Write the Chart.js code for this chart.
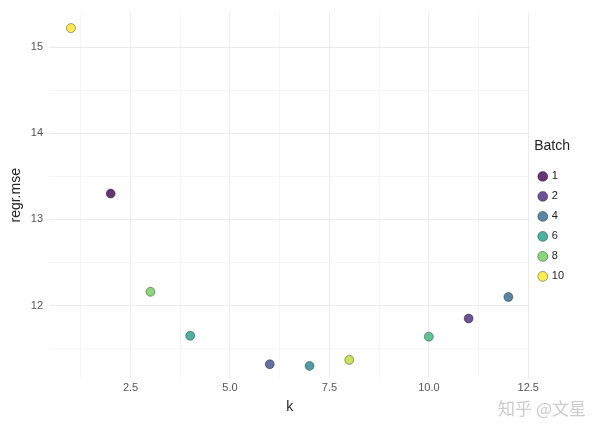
<!DOCTYPE html>
<html><head><meta charset="utf-8">
<script src="https://cdn.jsdelivr.net/npm/chart.js@4"></script>
<style>
body{margin:0;background:#fff;font-family:"Liberation Sans",Arial,sans-serif}
#wrap{position:relative;width:600px;height:428px}
#mark{position:absolute;right:14px;bottom:8px;font-size:17px;color:#ccc;font-family:"Noto Sans CJK SC"}
</style></head><body>
<div id="wrap"><canvas id="c" width="600" height="428"></canvas><div id="mark">知乎 @文星</div></div>
<script>
const kValues = [1, 2, 3, 4, 6, 7, 8, 10, 11, 12];
const mseValues = [15.22, 13.30, 12.16, 11.65, 11.32, 11.30, 11.37, 11.64, 11.85, 12.10];
const batches = [10, 1, 8, 6, 3, 5, 9, 7, 2, 4];
const legendBatches = [1, 2, 4, 6, 8, 10];
const viridis = {1:"#440154",2:"#482878",3:"#3E4A89",4:"#31688E",5:"#26828E",6:"#1F9E89",7:"#35B779",8:"#6DCD59",9:"#B4DE2C",10:"#FDE725"};
const alpha = c => c + "CC";

new Chart(document.getElementById("c"), {
  type: "scatter",
  data: { datasets: [{
    data: kValues.map((k, i) => ({x: k, y: mseValues[i]})),
    backgroundColor: batches.map(b => alpha(viridis[b])),
    borderColor: "rgba(0,0,0,0.45)", borderWidth: 0.8, pointRadius: 4.5
  }]},
  options: {
    responsive: false, animation: false,
    layout: { padding: {left: 8, right: 26, top: 10, bottom: 8} },
    plugins: {
      tooltip: {enabled: false},
      legend: {
        position: "right",
        title: {display: true, text: "Batch", color: "#222", font: {size: 14}, padding: {top: 0, bottom: 6}},
        labels: {
          usePointStyle: true, pointStyle: "circle", boxWidth: 7, boxHeight: 7, padding: 9,
          color: "#222", font: {size: 11},
          generateLabels: () => legendBatches.map(b => ({
            text: String(b), fillStyle: alpha(viridis[b]), strokeStyle: "rgba(0,0,0,0.45)",
            lineWidth: 0.8, pointStyle: "circle"
          }))
        }
      }
    },
    scales: {
      x: {
        type: "linear", min: 0.45, max: 12.55,
        afterBuildTicks: ax => { ax.ticks = [1.25,2.5,3.75,5,6.25,7.5,8.75,10,11.25,12.5].map(v => ({value: v})); },
        ticks: { color: "#555", font: {size: 11}, callback: v => (Math.abs(v / 2.5 - Math.round(v / 2.5)) < 1e-6) ? v.toFixed(1) : "" },
        grid: { color: c => (c.tick && Math.abs(c.tick.value / 2.5 - Math.round(c.tick.value / 2.5)) < 1e-6) ? "#ebebeb" : "#f5f5f5", drawTicks: false },
        border: {display: false},
        title: {display: true, text: "k", color: "#222", font: {size: 14}, padding: {top: 2}}
      },
      y: {
        min: 11.16, max: 15.4,
        afterBuildTicks: ax => { ax.ticks = [11.5,12,12.5,13,13.5,14,14.5,15].map(v => ({value: v})); },
        ticks: { color: "#555", font: {size: 11}, padding: 6, callback: v => Number.isInteger(v) ? String(v) : "" },
        grid: { color: c => (c.tick && Number.isInteger(c.tick.value)) ? "#ebebeb" : "#f5f5f5", drawTicks: false },
        border: {display: false},
        title: {display: true, text: "regr.mse", color: "#222", font: {size: 14}, padding: {top: 0, bottom: 0}}
      }
    }
  }
});
</script></body></html>
